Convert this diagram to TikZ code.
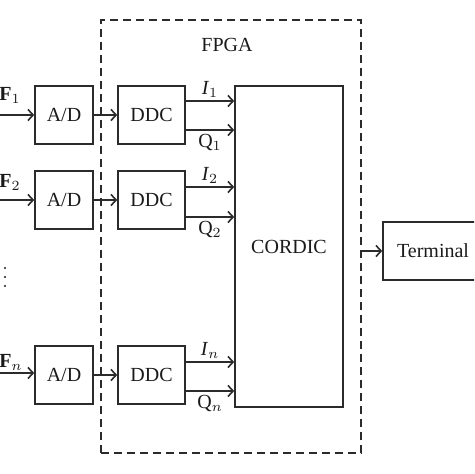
\documentclass[tikz,border=0pt]{standalone}
\usepackage{fontspec}
\setmainfont{Liberation Serif}
\usepackage{tikz}
\usetikzlibrary{positioning, calc, arrows.meta}
\definecolor{LineDark}{HTML}{2B2B2B}
\definecolor{TextDark}{HTML}{1A1A1A}

\begin{document}
\begin{tikzpicture}[x=0.5pt, y=-0.5pt, font=\fontsize{10}{12}\selectfont,
  block/.style={draw=LineDark, line width=0.8pt, inner sep=0pt, text=TextDark},
  flow/.style={-{Straight Barb[length=2.6pt, width=5.6pt]}, draw=LineDark, line width=0.8pt},
  sig/.style={text=TextDark, inner sep=1.5pt}]
          \useasboundingbox (0,0) rectangle (474,474);
          \clip (0,0) rectangle (474,474);

          % FPGA boundary
          \node[draw=LineDark, dash pattern=on 4pt off 2.5pt, line width=0.8pt, minimum width=130pt, minimum height=216.5pt, inner sep=0pt] (fpga) at (231,236.5) {};
          \node[text=TextDark] (fpgalbl) at (227,45) {FPGA};

          % A/D converters
          \node[block, minimum width=29pt, minimum height=29pt] (ad1) at (64,115) {A/D};
          \node[block, minimum width=29pt, minimum height=29pt] (ad2) at (64,200) {A/D};
          \node[block, minimum width=29pt, minimum height=29pt] (adn) at (64,375) {A/D};

          % DDC blocks
          \node[block, minimum width=33.5pt, minimum height=29pt] (ddc1) at (151.5,115) {DDC};
          \node[block, minimum width=33.5pt, minimum height=29pt] (ddc2) at (151.5,200) {DDC};
          \node[block, minimum width=33.5pt, minimum height=29pt] (ddcn) at (151.5,375) {DDC};

          % CORDIC and terminal
          \node[block, minimum width=54pt, minimum height=160.5pt] (cordic) at (289,246.5) {CORDIC};
          \node[block, minimum width=50pt, minimum height=29pt] (term) at (433,251) {Terminal};

          % Inputs
          \coordinate (in1) at (-2,115);
          \coordinate (in2) at (-2,200);
          \coordinate (inn) at (-2,373);
          \draw[flow] (in1) -- (ad1.west);
          \draw[flow] (in2) -- (ad2.west);
          \draw[flow] (inn) -- (inn -| adn.west);
          \node[anchor=base west, inner sep=0pt, text=TextDark] (f1) at (-1,101) {\textbf{F}$_1$};
          \node[anchor=base west, inner sep=0pt, text=TextDark] (f2) at (-1,188) {\textbf{F}$_2$};
          \node[anchor=base west, inner sep=0pt, text=TextDark] (fn) at (-1,367) {\textbf{F}$_n$};
          \fill[TextDark] (5,268) circle (0.6pt) (5,277) circle (0.6pt) (5,286) circle (0.6pt);

          % A/D to DDC
          \draw[flow] (ad1.east) -- (ddc1.west);
          \draw[flow] (ad2.east) -- (ddc2.west);
          \draw[flow] (adn.east) -- (ddcn.west);

          % I/Q channels
          \draw[flow] ([yshift=7pt]ddc1.east) -- ([yshift=7pt]ddc1.east -| cordic.west) node[sig, midway, above] {\textit{I}$_1$};
          \draw[flow] ([yshift=-7.5pt]ddc1.east) -- ([yshift=-7.5pt]ddc1.east -| cordic.west) node[sig, midway, below] {Q$_1$};
          \draw[flow] ([yshift=6.5pt]ddc2.east) -- ([yshift=6.5pt]ddc2.east -| cordic.west) node[sig, midway, above] {\textit{I}$_2$};
          \draw[flow] ([yshift=-8.5pt]ddc2.east) -- ([yshift=-8.5pt]ddc2.east -| cordic.west) node[sig, midway, below] {Q$_2$};
          \draw[flow] ([yshift=6.5pt]ddcn.east) -- ([yshift=6.5pt]ddcn.east -| cordic.west) node[sig, midway, above] {\textit{I}$_n$};
          \draw[flow] ([yshift=-8pt]ddcn.east) -- ([yshift=-8pt]ddcn.east -| cordic.west) node[sig, midway, below] {Q$_n$};

          % Output
          \draw[flow] (fpga.east |- term.west) -- (term.west);
        \end{tikzpicture}
\end{document}
